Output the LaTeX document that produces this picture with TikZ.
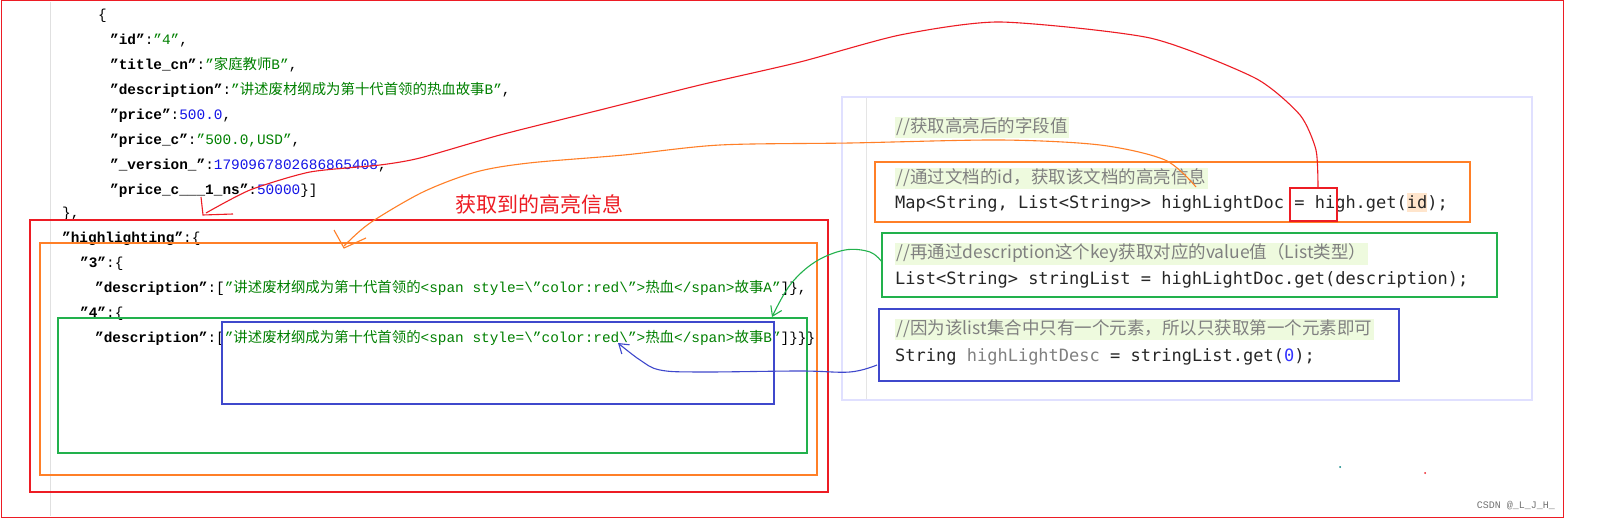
\documentclass[tikz,border=0pt]{standalone}
\usepackage{fontspec}
\setmainfont{Liberation Mono}
\newfontfamily\cjk{Noto Sans CJK SC}
\newfontfamily\codef{DejaVu Sans Mono}
\usetikzlibrary{arrows.meta}
\definecolor{jgreen}{RGB}{0,128,0}
\definecolor{jblue}{RGB}{20,20,230}
\definecolor{rred}{RGB}{237,28,36}
\definecolor{ror}{RGB}{255,127,39}
\definecolor{rgr}{RGB}{34,177,76}
\definecolor{rbl}{RGB}{63,72,204}
\definecolor{cmt}{RGB}{128,128,128}
\definecolor{cbg}{RGB}{238,250,222}
\newcommand\J[1]{{\cjk #1}}
\newcommand\K[1]{\textbf{#1}}
\newcommand\Sv[1]{\textcolor{jgreen}{#1}}
\newcommand\Nv[1]{\textcolor{jblue}{#1}}
\begin{document}
\begin{tikzpicture}[x=1pt,y=-1pt,
  jl/.style={anchor=base west,inner sep=0pt,font=\fontsize{14.4}{15}\selectfont},
  cl/.style={anchor=base west,inner sep=0pt,font=\codef\fontsize{17}{18}\selectfont,text=black!85},
  cmtbox/.style={anchor=base west,inner sep=1.5pt,fill=cbg,font=\cjk\fontsize{17.5}{18}\selectfont,text=cmt},
  bx/.style={line width=1.6pt},
  arr/.style={line width=1.1pt,-{Straight Barb[length=9pt,width=12pt]}}]
\useasboundingbox (0,0) rectangle (1599,529);
\fill[white] (0,0) rectangle (1599,529);
\draw[rred,line width=1pt] (1,1) -- (1563,1) -- (1563,517) -- (1,517) -- cycle;
\draw[black!12] (50,2) -- (50,516);
% JSON
\node[jl] (l1) at (98,20) {\{};
\node[jl] (l2) at (110,45) {\K{"id"}:\Sv{"4"},};
\node[jl] (l3) at (110,70) {\K{"title\_cn"}:\Sv{"\J{家庭教师}B"},};
\node[jl] (l4) at (110,95) {\K{"description"}:\Sv{"\J{讲述废材纲成为第十代首领的热血故事}B"},};
\node[jl] (l5) at (110,120) {\K{"price"}:\Nv{500.0},};
\node[jl] (l6) at (110,145) {\K{"price\_c"}:\Sv{"500.0,USD"},};
\node[jl] (l7) at (110,170) {\K{"\_version\_"}:\Nv{1790967802686865408},};
\node[jl] (l8) at (110,195) {\K{"price\_c\_\_\_1\_ns"}:\Nv{50000}\}]};
\node[jl] (l9) at (62,218) {\},};
\node[jl] (l10) at (62,243) {\K{"highlighting"}:\{};
\node[jl] (l11) at (80,268) {\K{"3"}:\{};
\node[jl] (l12) at (95,293) {\K{"description"}:[\Sv{"\J{讲述废材纲成为第十代首领的}<span style=\textbackslash"color:red\textbackslash">\J{热血}</span>\J{故事}A"}]\},};
\node[jl] (l13) at (80,318) {\K{"4"}:\{};
\node[jl] (l14) at (95,343) {\K{"description"}:[\Sv{"\J{讲述废材纲成为第十代首领的}<span style=\textbackslash"color:red\textbackslash">\J{热血}</span>\J{故事}B"}]\}\}\}};
\node[anchor=base west,inner sep=0pt,text=rred,font=\cjk\fontsize{21}{22}\selectfont] (title) at (455,213) {获取到的高亮信息};
% left boxes
\draw[rred,bx] (30,220) rectangle (828,492);
\draw[ror,bx] (40,243) rectangle (817,475);
\draw[rgr,bx] (58,318) rectangle (807,453);
\draw[rbl,bx] (222,322) rectangle (774,404);
% right panel
\draw[blue!12,line width=1.2pt] (842,97) rectangle (1532,400);
\draw[black!10] (866,98) -- (866,399);
\node[cmtbox] (c1) at (895,133) {//获取高亮后的字段值};
\node[cmtbox] (c2) at (895,184) {//通过文档的id，获取该文档的高亮信息};
\node[cl] (k2) at (895,209) {Map<String, List<String>{}> highLightDoc = high.get(\colorbox{orange!20}{\hspace{-3pt}id\hspace{-3pt}});};
\node[cmtbox] (c3) at (895,259) {//再通过description这个key获取对应的value值（List类型）};
\node[cl] (k3) at (895,285) {List<String> stringList = highLightDoc.get(description);};
\node[cmtbox] (c4) at (895,335) {//因为该list集合中只有一个元素，所以只获取第一个元素即可};
\node[cl] (k4) at (895,362) {String \textcolor{cmt}{highLightDesc} = stringList.get(\textcolor{blue!80}{0});};
\draw[ror,bx] (875,162) rectangle (1470,222);
\draw[rgr,bx] (882,233) rectangle (1497,297);
\draw[rbl,bx] (879,309) rectangle (1399,381);
\draw[rred,bx] (1290,188) rectangle (1337,221);
\coordinate (redstart) at (1318,188);
\coordinate (orstart) at (1196,187);
\coordinate (grstart) at (882,262);
\coordinate (blstart) at (877,365);
% connectors
\draw[rred,line width=1.1pt,line join=round] plot[smooth,tension=0.4] coordinates {(redstart) (1316,150) (1300,115) (1255,78) (1150,38) (1000,22) (900,35) (800,62) (700,85) (600,110) (500,135) (420,158) (380,165) (310,172) (250,190) (206,213)};
\draw[rred,line width=1.1pt] (201,197) -- (203,215) -- (233,214);
\draw[ror,line width=1.1pt] plot[smooth,tension=0.5] coordinates {(orstart) (1165,160) (1100,145) (1000,140) (850,143) (720,145) (624,155) (529,163) (476,172) (423,192) (370,223) (344,246)};
\draw[ror,line width=1.1pt] (334,230) -- (344,248) -- (366,238);
\draw[rgr,arr] plot[smooth,tension=0.6] coordinates {(grstart) (870,252) (845,250) (815,262) (790,285) (772,317)};
\draw[rbl,arr] plot[smooth,tension=0.6] coordinates {(blstart) (850,372) (800,371) (700,372) (660,370) (640,360) (618,343)};
% misc
\fill[teal] (1340,467) circle (1);
\fill[rred] (1425,473) circle (1);
\node[anchor=base east,inner sep=0pt,text=black!55,font=\fontsize{10}{11}\selectfont] (wm) at (1555,508) {CSDN @\_L\_J\_H\_};
\end{tikzpicture}
\end{document}
